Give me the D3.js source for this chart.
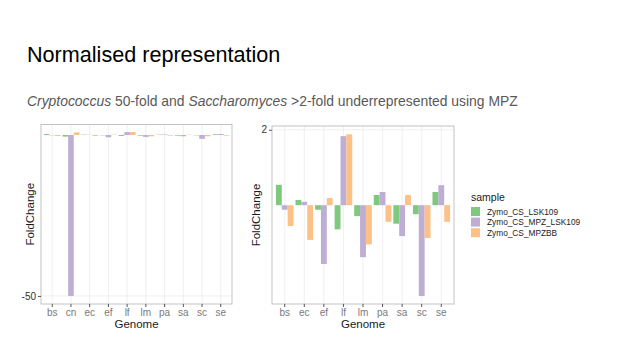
<!DOCTYPE html>
<html lang="en">
  <head>
    <meta charset="UTF-8" />
    <title>Normalised representation</title>
    <script src="https://d3js.org/d3.v7.min.js"></script>
    <style>
      body { margin: 0; background: #fff; }
      svg { display: block; font-family: "Liberation Sans", Arial, sans-serif; }
    </style>
  </head>
  <body></body>
  <script>
    var samples = ["Zymo_CS_LSK109", "Zymo_CS_MPZ_LSK109", "Zymo_CS_MPZBB"];
    var colors = ["#7fc97f", "#beaed4", "#fdc086"];

    // left panel: all genomes
    var genomesAll = ["bs", "cn", "ec", "ef", "lf", "lm", "pa", "sa", "sc", "se"];
    var lsk109All = [0.3, -0.5, 0.1, -0.1, -0.3, -0.2, 0.1, -0.2, -0.1, 0.2];
    var mpzLskAll = [-0.1, -50, 0.05, -0.7, 0.9, -0.6, 0.15, -0.4, -1.2, 0.3];
    var mpzbbAll = [-0.3, 0.8, -0.3, 0.1, 0.9, -0.4, -0.2, 0.1, -0.4, -0.2];
    var ticksAll = [-50];

    // right panel: without cn
    var genomes = ["bs", "ec", "ef", "lf", "lm", "pa", "sa", "sc", "se"];
    var lsk109 = [0.54, 0.14, -0.12, -0.64, -0.29, 0.27, -0.49, -0.24, 0.35];
    var mpzLsk = [-0.12, 0.09, -1.56, 1.83, -1.38, 0.35, -0.82, -2.41, 0.53];
    var mpzbb = [-0.55, -0.92, 0.19, 1.88, -1.04, -0.44, 0.27, -0.87, -0.44];
    var ticks = [2];

    var svg = d3.select("body").append("svg")
      .attr("width", 638)
      .attr("height", 359);

    svg.append("text")
      .attr("x", 27).attr("y", 62)
      .attr("font-size", 21.6)
      .attr("fill", "#000")
      .text("Normalised representation");

    var sub = svg.append("text")
      .attr("x", 27).attr("y", 106)
      .attr("font-size", 13.9)
      .attr("fill", "#595959");
    sub.append("tspan").attr("font-style", "italic").text("Cryptococcus");
    sub.append("tspan").text(" 50-fold and ");
    sub.append("tspan").attr("font-style", "italic").text("Saccharomyces");
    sub.append("tspan").text(" >2-fold underrepresented using MPZ");

    function panel(opts) {
      var cats = opts.cats;
      var rows = cats.map((c, i) => ({
        genome: c,
        vals: opts.series.map((s, j) => ({ sample: samples[j], value: s[i] }))
      }));

      var x = d3.scaleBand().domain(cats)
        .range([opts.left, opts.right])
        .paddingInner(0).paddingOuter(opts.pad);
      var xs = d3.scaleBand().domain(samples)
        .range([0, x.bandwidth() * 0.9]);
      var y = d3.scaleLinear().domain(opts.ydomain)
        .range([opts.bottom, opts.top]);

      var g = svg.append("g");

      // grid
      g.selectAll(".vg").data(cats).join("line")
        .attr("x1", d => x(d) + x.bandwidth() / 2)
        .attr("x2", d => x(d) + x.bandwidth() / 2)
        .attr("y1", opts.top).attr("y2", opts.bottom)
        .attr("stroke", "#ebebeb").attr("stroke-width", 0.8);
      g.selectAll(".hg").data(opts.ticks).join("line")
        .attr("x1", opts.left).attr("x2", opts.right)
        .attr("y1", d => y(d)).attr("y2", d => y(d))
        .attr("stroke", "#ebebeb").attr("stroke-width", 0.8);

      // bars
      g.selectAll(".grp").data(rows).join("g")
        .attr("transform", d => `translate(${x(d.genome) + x.bandwidth() * 0.05},0)`)
        .selectAll("rect").data(d => d.vals).join("rect")
        .attr("x", d => xs(d.sample))
        .attr("width", xs.bandwidth())
        .attr("y", d => y(Math.max(0, d.value)))
        .attr("height", d => Math.abs(y(d.value) - y(0)))
        .attr("fill", (d, i) => colors[i]);

      // border
      g.append("rect")
        .attr("x", opts.left).attr("y", opts.top)
        .attr("width", opts.right - opts.left)
        .attr("height", opts.bottom - opts.top)
        .attr("fill", "none").attr("stroke", "#b3b3b3").attr("stroke-width", 0.8);

      // axes
      var xa = g.append("g")
        .attr("transform", `translate(0,${opts.bottom})`)
        .call(d3.axisBottom(x).tickSize(3).tickPadding(2));
      var ya = g.append("g")
        .attr("transform", `translate(${opts.left},0)`)
        .call(d3.axisLeft(y).tickValues(opts.ticks).tickSize(3).tickPadding(2)
          .tickFormat(d => String(d)));
      [xa, ya].forEach(a => {
        a.select(".domain").remove();
        a.selectAll(".tick line").attr("stroke", "#555");
        a.selectAll("text")
          .attr("font-size", 10).attr("fill", "#7a7a7a")
          .attr("font-family", "Liberation Sans, Arial, sans-serif");
      });
      ya.selectAll("text").attr("fill", "#333");

      g.append("text")
        .attr("x", (opts.left + opts.right) / 2).attr("y", 328)
        .attr("text-anchor", "middle")
        .attr("font-size", 11.5).attr("fill", "#1a1a1a")
        .text("Genome");
      g.append("text")
        .attr("transform", `translate(${opts.ylabX},${(opts.top + opts.bottom) / 2}) rotate(-90)`)
        .attr("text-anchor", "middle")
        .attr("font-size", 11.5).attr("fill", "#1a1a1a")
        .text("FoldChange");
    }

    panel({
      cats: genomesAll,
      series: [lsk109All, mpzLskAll, mpzbbAll],
      left: 41, right: 232, top: 124.5, bottom: 304,
      pad: 0.1, ydomain: [-52.5, 3.26], ticks: ticksAll, ylabX: 34
    });

    panel({
      cats: genomes,
      series: [lsk109, mpzLsk, mpzbb],
      left: 272, right: 454, top: 126, bottom: 304,
      pad: 0.15, ydomain: [-2.62, 2.1], ticks: ticks, ylabX: 260
    });

    // legend
    var leg = svg.append("g").attr("transform", "translate(471,0)");
    leg.append("text")
      .attr("x", 0).attr("y", 201)
      .attr("font-size", 10.5).attr("fill", "#1a1a1a")
      .text("sample");
    var items = leg.selectAll(".item").data(samples).join("g")
      .attr("transform", (d, i) => `translate(0,${207 + i * 10.6})`);
    items.append("rect")
      .attr("width", 9).attr("height", 9)
      .attr("fill", (d, i) => colors[i]);
    items.append("text")
      .attr("x", 16).attr("y", 7.5)
      .attr("font-size", 8.3).attr("fill", "#1a1a1a")
      .text(d => d);
  </script>
</html>
